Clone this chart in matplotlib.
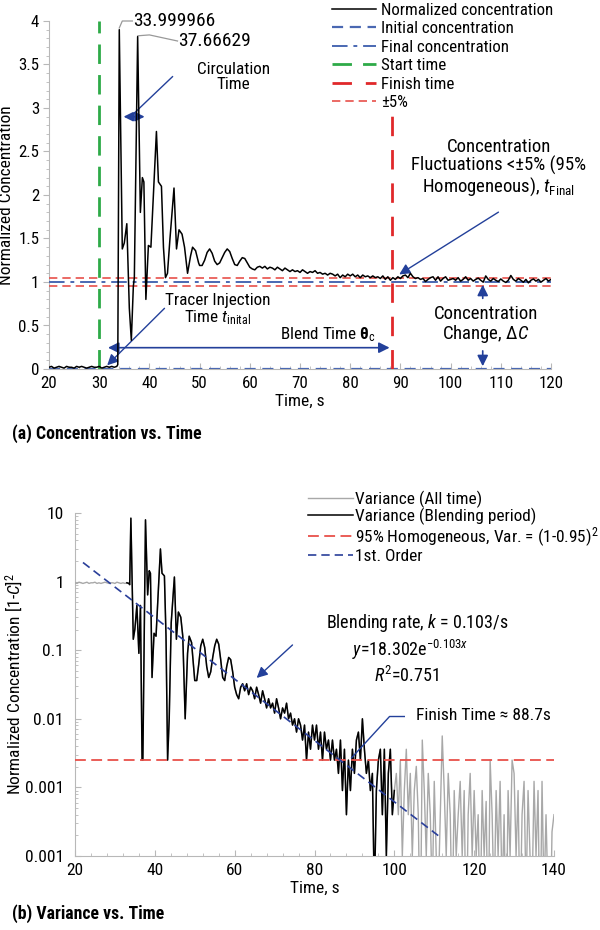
import numpy as np
import matplotlib
matplotlib.use("Agg")
import matplotlib.pyplot as plt
import matplotlib.font_manager as fm
from matplotlib.ticker import MultipleLocator, FixedLocator, NullFormatter, LogLocator

# ---- pick a narrow/condensed sans font if one is installed ----
_pref = ['Liberation Sans Narrow', 'Roboto Condensed', 'Noto Sans', 'Open Sans',
         'DejaVu Sans', 'Inter', 'Lato', 'Roboto']
_found = {}
for f in fm.fontManager.ttflist:
    st = str(f.stretch)
    narrow = ('Narrow' in f.name) or ('Condensed' in f.name) or ('condensed' in st)
    if narrow and f.style == 'normal':
        _found.setdefault(f.name, st)
FONT, STRETCH = None, 'normal'
for p in _pref:
    if p in _found:
        FONT, STRETCH = p, _found[p]
        break
if FONT is None and _found:
    FONT = sorted(_found)[0]
    STRETCH = _found[FONT]
if FONT is None:
    FONT = 'Roboto'
    SCALE = 0.85
else:
    SCALE = 1.0
if STRETCH in ('normal', '500'):
    STRETCH = 'condensed' if 'Narrow' not in FONT and 'Condensed' not in FONT else 'normal'

plt.rcParams['font.family'] = [FONT, 'DejaVu Sans']
plt.rcParams['font.stretch'] = STRETCH
plt.rcParams['mathtext.fontset'] = 'custom'
plt.rcParams['mathtext.rm'] = FONT
plt.rcParams['mathtext.it'] = FONT + ':italic'
plt.rcParams['mathtext.bf'] = FONT + ':bold'

def fs(x):
    return x * SCALE

# ---------------- data ----------------
# pre-injection baseline (20 .. 33 s, step 0.5)
t_pre = np.arange(20.0, 33.01, 0.5)
c_pre = [0.02, 0.03, 0.01, 0.02, 0.03, 0.02, 0.01, 0.03, 0.02, 0.02, 0.01, 0.03,
         0.02, 0.03, 0.02, 0.01, 0.02, 0.03, 0.02, 0.02, 0.03, 0.01, 0.02, 0.03,
         0.02, 0.03, 0.02]

# injection / circulation phase (irregular times)
t_mix = [33.5, 33.7, 34.0, 34.6, 35.0, 35.5, 36.0, 36.4, 36.8, 37.0, 37.66, 38.2,
         38.6, 38.9, 39.3, 39.8, 40.3, 41.4, 41.8, 42.4, 42.8, 43.2, 43.6, 44.1,
         44.9, 45.4, 45.9, 46.5, 47.0, 47.6, 48.2, 48.6, 49.2, 49.8, 50.0]
c_mix = [0.03, 0.05, 3.90, 1.38, 1.45, 1.67, 0.70, 0.33, 0.95, 1.05, 3.82, 1.80,
         2.20, 2.15, 0.80, 1.42, 1.40, 2.73, 2.15, 2.10, 1.40, 1.05, 1.10, 1.50,
         2.08, 1.38, 1.60, 1.55, 1.40, 1.10, 1.30, 1.40, 1.36, 1.22, 1.19]

# decay phase (50.5 .. 140 s, step 0.5)
t_dec = np.arange(50.5, 140.01, 0.5)
c_dec = [1.19, 1.25, 1.34, 1.38, 1.33, 1.24, 1.20, 1.22, 1.28, 1.34,
         1.38, 1.35, 1.27, 1.20, 1.19, 1.24, 1.28, 1.27, 1.22, 1.17,
         1.15, 1.14, 1.17, 1.18, 1.16, 1.18, 1.15, 1.17, 1.16, 1.14,
         1.17, 1.15, 1.13, 1.16, 1.14, 1.12, 1.14, 1.12, 1.13, 1.11,
         1.14, 1.12, 1.10, 1.12, 1.11, 1.13, 1.10, 1.11, 1.09, 1.10,
         1.08, 1.10, 1.09, 1.07, 1.09, 1.05, 1.08, 1.06, 1.09, 1.07,
         1.09, 1.06, 1.08, 1.05, 1.08, 1.06, 1.07, 1.05, 1.07, 1.05,
         1.06, 1.04, 1.07, 1.03, 1.06, 1.02, 1.05, 1.03, 1.06, 1.04,
         1.07, 1.08, 1.05, 1.10, 1.06, 1.04, 1.05, 1.03, 1.04, 1.005,
         1.03, 1.05, 1.06, 1.02, 1.06, 1.01, 1.04, 1.06, 1.02, 1.03,
         1.04, 1.02, 1.05, 1.01, 1.03, 1.06, 1.02, 1.04, 1.01, 1.03,
         1.045, 1.02, 0.998, 1.07, 1.03, 1.01, 1.04, 1.02, 1.005, 1.035,
         1.01, 0.995, 1.02, 1.075, 1.03, 1.01, 1.04, 1.02, 0.997, 1.03,
         0.99, 1.02, 1.035, 1.01, 1.03, 0.998, 1.02, 1.04, 1.01, 1.03,
         0.99, 1.02, 0.997, 1.03, 1.01, 1.025, 0.998, 1.05, 1.02, 0.996,
         1.03, 1.01, 1.035, 1.005, 1.02, 0.998, 1.03, 1.01, 1.05, 1.04,
         1.01, 1.03, 0.997, 1.02, 1.035, 1.005, 1.03, 1.01, 0.995, 1.035,
         1.01, 1.03, 0.998, 1.035, 1.005, 1.02, 0.995, 0.998, 1.015, 1.02]

time = np.concatenate([t_pre, t_mix, t_dec])
conc = np.concatenate([c_pre, c_mix, c_dec])
variance = (1.0 - conc) ** 2

initial_conc = 0.0
final_conc = 1.0
start_time = 30.0
finish_time = 88.3
band = 0.05
blend_start, blend_end = 33.0, 100.0
fit_a, fit_k = 18.302, 0.103
fit_range = (22.0, 111.0)
homog_var = (1 - 0.95) ** 2

NAVY = '#23409a'
BLUE = '#4a68b2'
GREEN = '#2eaa48'
RED = '#e0282a'
RED2 = '#e8504a'
SPINE = '#b8b8b8'

fig = plt.figure(figsize=(6.0, 9.3), dpi=100)

# ================= (a) =================
ax = fig.add_axes([49/600, 1-369/930, 502/600, 348/930])
mask_top = time <= 120.0
ax.plot(time[mask_top], conc[mask_top], color='black', lw=1.1, label='Normalized concentration', zorder=5)
ax.plot([20, 120], [initial_conc]*2, color=BLUE, lw=1.6, dashes=(5, 3), label='Initial concentration', zorder=3)
ax.plot([20, 120], [final_conc]*2, color=BLUE, lw=1.4, dashes=(8, 3, 2, 3), label='Final concentration', zorder=3)
ax.plot([start_time]*2, [0, 4], color=GREEN, lw=2.0, dashes=(7, 4), label='Start time', zorder=4)
ax.plot([finish_time]*2, [0, 2.92], color=RED, lw=2.0, dashes=(7, 5), label='Finish time', zorder=4)
ax.plot([20, 120], [final_conc + band]*2, color=RED2, lw=1.2, dashes=(5, 3), label='±5%', zorder=3)
ax.plot([20, 120], [final_conc - band]*2, color=RED2, lw=1.2, dashes=(5, 3), zorder=3)

ax.set_xlim(20, 120)
ax.set_ylim(0, 4)
ax.set_xticks(np.arange(20, 121, 10))
ax.set_yticks(np.arange(0, 4.01, 0.5))
ax.set_yticklabels(['0', '0.5', '1', '1.5', '2', '2.5', '3', '3.5', '4'])
ax.xaxis.set_minor_locator(MultipleLocator(2))
ax.yaxis.set_minor_locator(MultipleLocator(0.1))
for s in ['top', 'right']:
    ax.spines[s].set_visible(False)
for s in ['left', 'bottom']:
    ax.spines[s].set_color(SPINE)
ax.tick_params(axis='both', which='both', colors=SPINE, labelcolor='black', labelsize=fs(12.2))
ax.tick_params(axis='x', which='major', direction='in', length=4, pad=5)
ax.tick_params(axis='x', which='minor', direction='in', length=2.5)
ax.tick_params(axis='y', which='major', direction='out', length=4, pad=3)
ax.tick_params(axis='y', which='minor', direction='out', length=2.5)
ax.set_xlabel('Time, s', fontsize=fs(12.5), labelpad=2)
ax.set_ylabel('Normalized Concentration', fontsize=fs(12.5))
ax.yaxis.set_label_coords(-35/502, 0.5)

ax.legend(loc='upper left', bbox_to_anchor=(332/600, 1 - 3/930), bbox_transform=fig.transFigure,
          frameon=False, fontsize=fs(12.2), handlelength=2.6, handletextpad=0.3,
          labelspacing=0.2, borderpad=0, borderaxespad=0)

# peak labels
ax.plot([34.0, 34.6, 36.6], [3.92, 4.0, 4.0], color='#999999', lw=0.9, clip_on=False)
ax.text(36.8, 4.0, '33.999966', fontsize=fs(14), va='center', ha='left')
ax.plot([37.7, 40.0, 45.6], [3.83, 3.84, 3.77], color='#999999', lw=0.9)
ax.text(45.8, 3.77, '37.66629', fontsize=fs(14), va='center', ha='left')

ax.text(56.8, 3.36, 'Circulation\nTime', fontsize=fs(12.3), ha='center', va='center', linespacing=1.0)
ax.plot([44.6, 36.6], [3.36, 2.92], color=NAVY, lw=1.0)
ax.annotate('', xy=(34.3, 2.9), xytext=(39.6, 2.9),
            arrowprops=dict(arrowstyle='<|-|>', color=NAVY, lw=1.2, mutation_scale=14))

ax.text(109.6, 2.31, 'Concentration\nFluctuations <±5% (95%\nHomogeneous), $t_\\mathrm{Final}$',
        fontsize=fs(13.5), ha='center', va='center', linespacing=1.0)
ax.annotate('', xy=(89.3, 1.07), xytext=(110.0, 1.82),
            arrowprops=dict(arrowstyle='-|>', color=NAVY, lw=1.0, mutation_scale=16))

ax.text(53.6, 0.68, 'Tracer Injection\nTime $t_\\mathrm{inital}$', fontsize=fs(12.3),
        ha='center', va='center', linespacing=1.0)
ax.annotate('', xy=(31.2, 0.02), xytext=(43.4, 0.72),
            arrowprops=dict(arrowstyle='-|>', color=NAVY, lw=1.0, mutation_scale=16))

ax.text(75.6, 0.39, 'Blend Time $\\mathbf{\\theta}_\\mathrm{c}$', fontsize=fs(12.3), ha='center', va='center')
ax.annotate('', xy=(31.2, 0.245), xytext=(88.4, 0.245),
            arrowprops=dict(arrowstyle='<|-|>', color=NAVY, lw=1.2, mutation_scale=16))

ax.text(107.0, 0.51, 'Concentration\nChange, $\\Delta\\it{C}$', fontsize=fs(13.5),
        ha='center', va='center', linespacing=1.0)
ax.annotate('', xy=(106.4, 1.0), xytext=(106.4, 0.78),
            arrowprops=dict(arrowstyle='-|>', color=NAVY, lw=1.2, mutation_scale=16))
ax.annotate('', xy=(106.4, 0.0), xytext=(106.4, 0.24),
            arrowprops=dict(arrowstyle='-|>', color=NAVY, lw=1.2, mutation_scale=16))

fig.text(12/600, 1 - 434/930, '(a) Concentration vs. Time', fontsize=fs(12.8), fontweight='bold',
         ha='left', va='center')

# ================= (b) =================
bx = fig.add_axes([75/600, 1-856/930, 479/600, 343/930])
bx.plot(time, variance, color='#a8a8a8', lw=1.0, label='Variance (All time)', zorder=3)
blend = (time >= blend_start) & (time <= blend_end)
bx.plot(time[blend], variance[blend], color='black', lw=1.1, label='Variance (Blending period)', zorder=4)
bx.plot([20, 140], [homog_var]*2, color=RED2, lw=1.3, dashes=(6, 3),
        label='95% Homogeneous, Var. = (1-0.95)$^2$', zorder=5)
fx = np.linspace(fit_range[0], fit_range[1], 50)
bx.plot(fx, fit_a*np.exp(-fit_k*fx), color='#2a3f9a', lw=1.2, dashes=(5, 3), label='1st. Order', zorder=6)

bx.set_yscale('log', nonpositive='clip')
bx.set_xlim(20, 140)
bx.set_ylim(1e-4, 10)
bx.set_xticks(np.arange(20, 141, 20))
bx.yaxis.set_major_locator(FixedLocator([1e-4, 1e-3, 1e-2, 1e-1, 1, 10]))
bx.set_yticklabels(['0.001', '0.001', '0.01', '0.1', '1', '10'])
bx.yaxis.set_minor_locator(LogLocator(base=10, subs=np.arange(2, 10), numticks=20))
bx.yaxis.set_minor_formatter(NullFormatter())
bx.xaxis.set_minor_locator(MultipleLocator(4))
for s in ['top', 'right']:
    bx.spines[s].set_visible(False)
for s in ['left', 'bottom']:
    bx.spines[s].set_color(SPINE)
bx.tick_params(axis='both', which='both', colors=SPINE, labelcolor='black', labelsize=fs(12.5))
bx.tick_params(axis='both', which='major', direction='in', length=4)
bx.tick_params(axis='x', which='major', pad=5)
bx.tick_params(axis='y', which='major', pad=8)
bx.tick_params(axis='both', which='minor', direction='in', length=2.5)
bx.set_xlabel('Time, s', fontsize=fs(12.5), labelpad=2)
bx.set_ylabel('Normalized Concentration [1-$\\it{C}$]$^2$', fontsize=fs(12.5))
bx.yaxis.set_label_coords(-50/479, 0.5)

bx.legend(loc='upper left', bbox_to_anchor=(308/600, 1 - 491/930), bbox_transform=fig.transFigure,
          frameon=False, fontsize=fs(12.4), handlelength=2.6, handletextpad=0.15,
          labelspacing=-0.01, borderpad=0, borderaxespad=0)

bx.text(83.0, 0.25, 'Blending rate, $\\it{k}$ = 0.103/s', fontsize=fs(13), ha='left', va='center')
bx.text(89.3, 0.1, '$\\it{y}$=18.302e$^{-0.103x}$', fontsize=fs(13), ha='left', va='center')
bx.text(95.0, 0.042, '$\\it{R}^2$=0.751', fontsize=fs(13), ha='left', va='center')
bx.annotate('', xy=(65.0, 0.037), xytext=(75.0, 0.127),
            arrowprops=dict(arrowstyle='-|>', color=NAVY, lw=1.0, mutation_scale=16))
bx.text(105.5, 0.0112, 'Finish Time ≈ 88.7s', fontsize=fs(12.6), ha='left', va='center')
bx.plot([102.5, 98.8, 89.3], [0.0108, 0.0108, 0.0027], color=NAVY, lw=1.0, zorder=7)

fig.text(12/600, 1 - 914/930, '(b) Variance vs. Time', fontsize=fs(12.8), fontweight='bold',
         ha='left', va='center')

fig.savefig('out.png', dpi=100)
